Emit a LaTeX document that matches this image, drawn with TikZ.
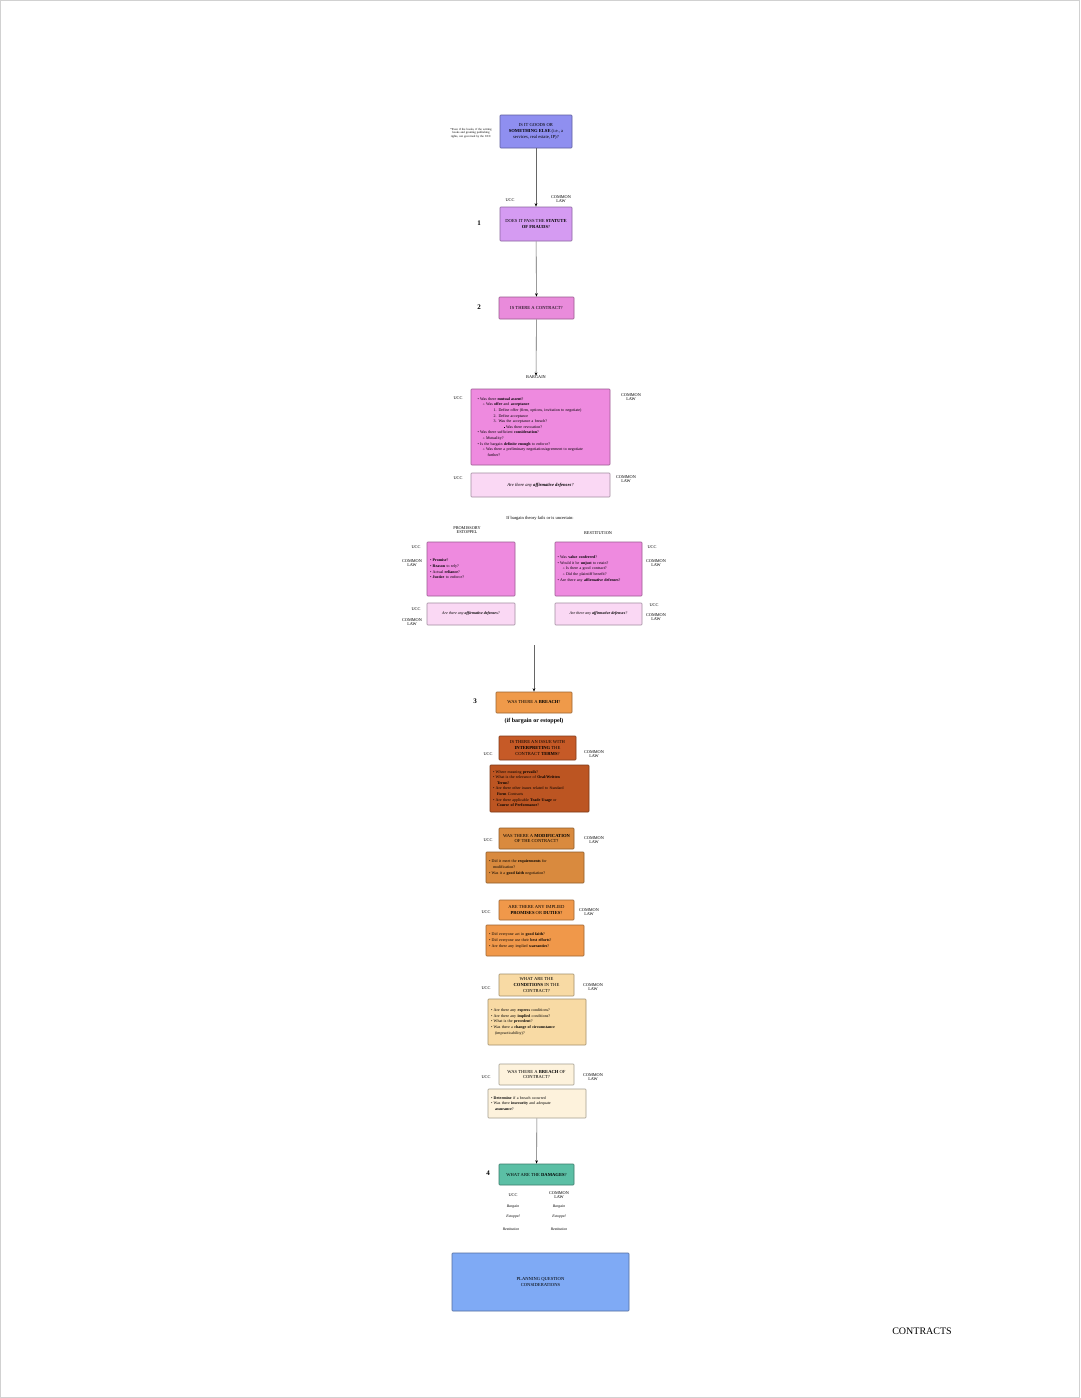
\documentclass[tikz,border=0pt]{standalone}
\usepackage{fontspec}
\setmainfont{Liberation Serif}
\usetikzlibrary{arrows.meta}
\hyphenpenalty=10000
\exhyphenpenalty=10000
\newcommand\fsz[2]{\fontsize{#1}{#2}\selectfont}
\newcommand\sbul{\hspace*{5pt}\scalebox{0.6}{$\circ$}\ }
\definecolor{topc}{HTML}{8F8FF0}
\definecolor{onec}{HTML}{D59BF2}
\definecolor{twoc}{HTML}{E98BDB}
\definecolor{bargc}{HTML}{EE8ADF}
\definecolor{affc}{HTML}{FAD8F4}
\definecolor{brc}{HTML}{EF9A4A}
\definecolor{intc}{HTML}{C65A27}
\definecolor{intbc}{HTML}{BC5522}
\definecolor{modc}{HTML}{D98A3E}
\definecolor{implc}{HTML}{F0984A}
\definecolor{condc}{HTML}{F8DAA4}
\definecolor{bocc}{HTML}{FDF2DC}
\definecolor{damc}{HTML}{5BBFA5}
\definecolor{planc}{HTML}{7FAAF5}
\tikzset{
  box/.style={draw=#1!65!black, fill=#1, line width=0.6pt, inner sep=0pt, align=center, rounded corners=0.8pt},
  lbl/.style={font=\fsz{4.3}{4.6}, align=center, inner sep=0pt},
  num/.style={font=\bfseries\fsz{7}{8}, inner sep=0pt},
  btxt/.style={font=\fsz{4.6}{5.6}},
  ltxt/.style={font=\fsz{4}{5.6}},
  dtxt/.style={lbl, font=\itshape\fsz{3.8}{4.2}},
  arr/.style={draw=black!60, line width=0.6pt, -{Stealth[length=3.5pt,width=2.6pt,black]}},
}
\begin{document}
\begin{tikzpicture}[x=1pt,y=-1pt]
\useasboundingbox (0,0) rectangle (1080,1398);
\fill[white] (0,0) rectangle (1080,1398);
\draw[black!18, line width=0.6pt] (0.5,0.5) rectangle (1079.5,1397.5);

% top
\node[box=topc, minimum width=72pt, minimum height=33pt, btxt] (top) at (536,131.5)
  {IS IT GOODS OR\\\textbf{SOMETHING ELSE} (i.e., a\\services, real estate, IP)?};
\node[font=\fsz{3}{3.6}, align=center, text width=52pt, inner sep=0pt] (note) at (471,133)
  {*Even if the books, if the writing books and granting publishing rights, not governed by the UCC};

\node[lbl] (ucc0) at (510,200) {UCC};
\node[lbl] (cl0) at (561,199) {COMMON\\LAW};
\node[box=onec, minimum width=72pt, minimum height=34pt, btxt] (b1) at (536,224)
  {DOES IT PASS THE \textbf{STATUTE}\\\textbf{OF FRAUDS}?};
\node[num] (n1) at (479,223) {1};

\node[box=twoc, minimum width=75pt, minimum height=22pt, btxt] (b2) at (536.5,308)
  {IS THERE A CONTRACT?};
\node[num] (n2) at (479,307) {2};

\node[lbl] (barglbl) at (536,377.5) {BARGAIN};
\node[box=bargc, minimum width=139pt, minimum height=76pt, text width=126pt, align=left, ltxt] (barg) at (540.5,427)
  {\textbullet\ Was there \textbf{mutual assent}?\\
   \sbul Was \textbf{offer} and \textbf{acceptance}\\
   \hspace*{16pt}1. Define offer (firm, options, invitation to negotiate)\\
   \hspace*{16pt}2. Define acceptance\\
   \hspace*{16pt}3. Was the acceptance a breach?\\
   \hspace*{26pt}\rule[0.4pt]{1.3pt}{1.3pt}\ Was there revocation?\\
   \textbullet\ Was there sufficient \textbf{consideration}?\\
   \sbul Mutuality?\\
   \textbullet\ Is the bargain \textbf{definite enough} to enforce?\\
   \sbul Was there a preliminary negotiation/agreement to negotiate\\
   \hspace*{10pt}further?};
\node[lbl] (ucc1) at (458,398) {UCC};
\node[lbl] (cl1) at (631,397) {COMMON\\LAW};

\node[box=affc, minimum width=139pt, minimum height=24pt, btxt] (aff) at (540.5,485)
  {\itshape Are there any \textbf{affirmative defenses}?};
\node[lbl] (ucc2) at (458,478) {UCC};
\node[lbl] (cl2) at (626,479) {COMMON\\LAW};

\node[lbl, font=\fsz{4.5}{5}] (iff) at (540,518) {If bargain theory fails or is uncertain:};
\node[lbl] (pel) at (467,530) {PROMISSORY\\ESTOPPEL};
\node[lbl] (resl) at (598,533) {RESTITUTION};

\node[box=bargc, minimum width=88pt, minimum height=54pt, text width=82pt, align=left, ltxt] (pe) at (471,569)
  {\textbullet\ \textbf{Promise}?\\
   \textbullet\ \textbf{Reason} to rely?\\
   \textbullet\ Actual \textbf{reliance}?\\
   \textbullet\ \textbf{Justice} to enforce?};
\node[lbl] (ucc3) at (416,547) {UCC};
\node[lbl] (cl3) at (412,563) {COMMON\\LAW};

\node[box=bargc, minimum width=87pt, minimum height=54pt, text width=82pt, align=left, ltxt] (rest) at (598.5,569)
  {\textbullet\ Was \textbf{value conferred}?\\
   \textbullet\ Would it be \textbf{unjust} to retain?\\
   \sbul Is there a good contract?\\
   \sbul Did the plaintiff benefit?\\
   \textbullet\ Are there any \textbf{affirmative defenses}?};
\node[lbl] (ucc4) at (652,547) {UCC};
\node[lbl] (cl4) at (656,563) {COMMON\\LAW};

\node[box=affc, minimum width=88pt, minimum height=22pt, ltxt] (peaff) at (471,614)
  {\itshape Are there any \textbf{affirmative defenses}?};
\node[lbl] (ucc5) at (416,609) {UCC};
\node[lbl] (cl5) at (412,622) {COMMON\\LAW};
\node[box=affc, minimum width=87pt, minimum height=22pt, ltxt] (resaff) at (598.5,614)
  {\itshape Are there any \textbf{affirmative defenses}?};
\node[lbl] (ucc6) at (654,605) {UCC};
\node[lbl] (cl6) at (656,617) {COMMON\\LAW};

% breach
\coordinate (bstart) at (534,645);
\node[box=brc, minimum width=76pt, minimum height=21pt, btxt] (br) at (534,702.5)
  {WAS THERE A \textbf{BREACH}?};
\node[num] (n3) at (475,701) {3};
\node[lbl, font=\bfseries\fsz{6}{7}] (ifb) at (534,721) {(if bargain or estoppel)};

\node[box=intc, minimum width=77pt, minimum height=24pt, btxt] (int) at (537.5,748)
  {IS THERE AN ISSUE WITH\\\textbf{INTERPRETING} THE\\CONTRACT \textbf{TERMS}?};
\node[lbl] (ucc7) at (488,754) {UCC};
\node[lbl] (cl7) at (594,754) {COMMON\\LAW};
\node[box=intbc, minimum width=99pt, minimum height=47pt, text width=93pt, align=left, ltxt] (intb) at (539.5,788.5)
  {\textbullet\ Where meaning \textbf{prevails}?\\
   \textbullet\ What is the relevance of \textbf{Oral/Written}\\
   \hspace*{4pt}\textbf{Terms}?\\
   \textbullet\ Are there other issues related to Standard\\
   \hspace*{4pt}\textbf{Form} Contracts\\
   \textbullet\ Are there applicable \textbf{Trade Usage} or\\
   \hspace*{4pt}\textbf{Course of Performance}?};

\node[box=modc, minimum width=75pt, minimum height=21pt, btxt] (mod) at (536.5,838.5)
  {WAS THERE A \textbf{MODIFICATION}\\OF THE CONTRACT?};
\node[lbl] (ucc8) at (488,840) {UCC};
\node[lbl] (cl8) at (594,840) {COMMON\\LAW};
\node[box=modc, minimum width=98pt, minimum height=31pt, text width=92pt, align=left, ltxt] (modb) at (535,867.5)
  {\textbullet\ Did it meet the \textbf{requirements} for\\
   \hspace*{4pt}modification?\\
   \textbullet\ Was it a \textbf{good faith} negotiation?};

\node[box=implc, minimum width=75pt, minimum height=20pt, btxt] (impl) at (536.5,910)
  {ARE THERE ANY IMPLIED\\\textbf{PROMISES} OR \textbf{DUTIES}?};
\node[lbl] (ucc9) at (486,912) {UCC};
\node[lbl] (cl9) at (589,912) {COMMON\\LAW};
\node[box=implc, minimum width=98pt, minimum height=31pt, text width=92pt, align=left, ltxt] (implb) at (535,940.5)
  {\textbullet\ Did everyone act in \textbf{good faith}?\\
   \textbullet\ Did everyone use their \textbf{best efforts}?\\
   \textbullet\ Are there any implied \textbf{warranties}?};

\node[box=condc, minimum width=75pt, minimum height=22pt, btxt] (cond) at (536.5,985)
  {WHAT ARE THE\\\textbf{CONDITIONS} IN THE\\CONTRACT?};
\node[lbl] (ucc10) at (486,988) {UCC};
\node[lbl] (cl10) at (593,987) {COMMON\\LAW};
\node[box=condc, minimum width=98pt, minimum height=46pt, text width=92pt, align=left, ltxt] (condb) at (537,1022)
  {\textbullet\ Are there any \textbf{express} conditions?\\
   \textbullet\ Are there any \textbf{implied} conditions?\\
   \textbullet\ What is the \textbf{precedent}?\\
   \textbullet\ Was there a \textbf{change of circumstance}\\
   \hspace*{4pt}(impracticability)?};

\node[box=bocc, minimum width=75pt, minimum height=21pt, btxt] (boc) at (536.5,1074.5)
  {WAS THERE A \textbf{BREACH} OF\\CONTRACT?};
\node[lbl] (ucc11) at (486,1077) {UCC};
\node[lbl] (cl11) at (593,1077) {COMMON\\LAW};
\node[box=bocc, minimum width=98pt, minimum height=29pt, text width=92pt, align=left, ltxt] (bocb) at (537,1103.5)
  {\textbullet\ \textbf{Determine} if a breach occurred\\
   \textbullet\ Was there \textbf{insecurity} and adequate\\
   \hspace*{4pt}\textbf{assurance}?};

% damages
\node[box=damc, minimum width=75pt, minimum height=21pt, btxt] (dam) at (536.5,1174.5)
  {WHAT ARE THE \textbf{DAMAGES}?};
\node[num] (n4) at (488,1173) {4};
\node[lbl] (ucc12) at (513,1195) {UCC};
\node[lbl] (cl12) at (559,1195) {COMMON\\LAW};
\node[dtxt] (d1) at (513,1207) {Bargain};
\node[dtxt] (d2) at (513,1217) {Estoppel};
\node[dtxt] (d3) at (511,1229) {Restitution};
\node[dtxt] (d4) at (559,1207) {Bargain};
\node[dtxt] (d5) at (559,1217) {Estoppel};
\node[dtxt] (d6) at (559,1229) {Restitution};

\node[box=planc, minimum width=177pt, minimum height=58pt, btxt] (plan) at (540.5,1282)
  {PLANNING QUESTION\\CONSIDERATIONS};
\node[font=\fsz{10}{11}, inner sep=0pt] (contracts) at (922,1331) {CONTRACTS};

% arrows
\draw[arr] (top) -- (b1);
\draw[arr] (b1) -- (b2);
\draw[arr] (b2) -- (barglbl);
\draw[arr] (bstart) -- (br);
\draw[arr] (bocb) -- (dam);
\end{tikzpicture}
\end{document}
